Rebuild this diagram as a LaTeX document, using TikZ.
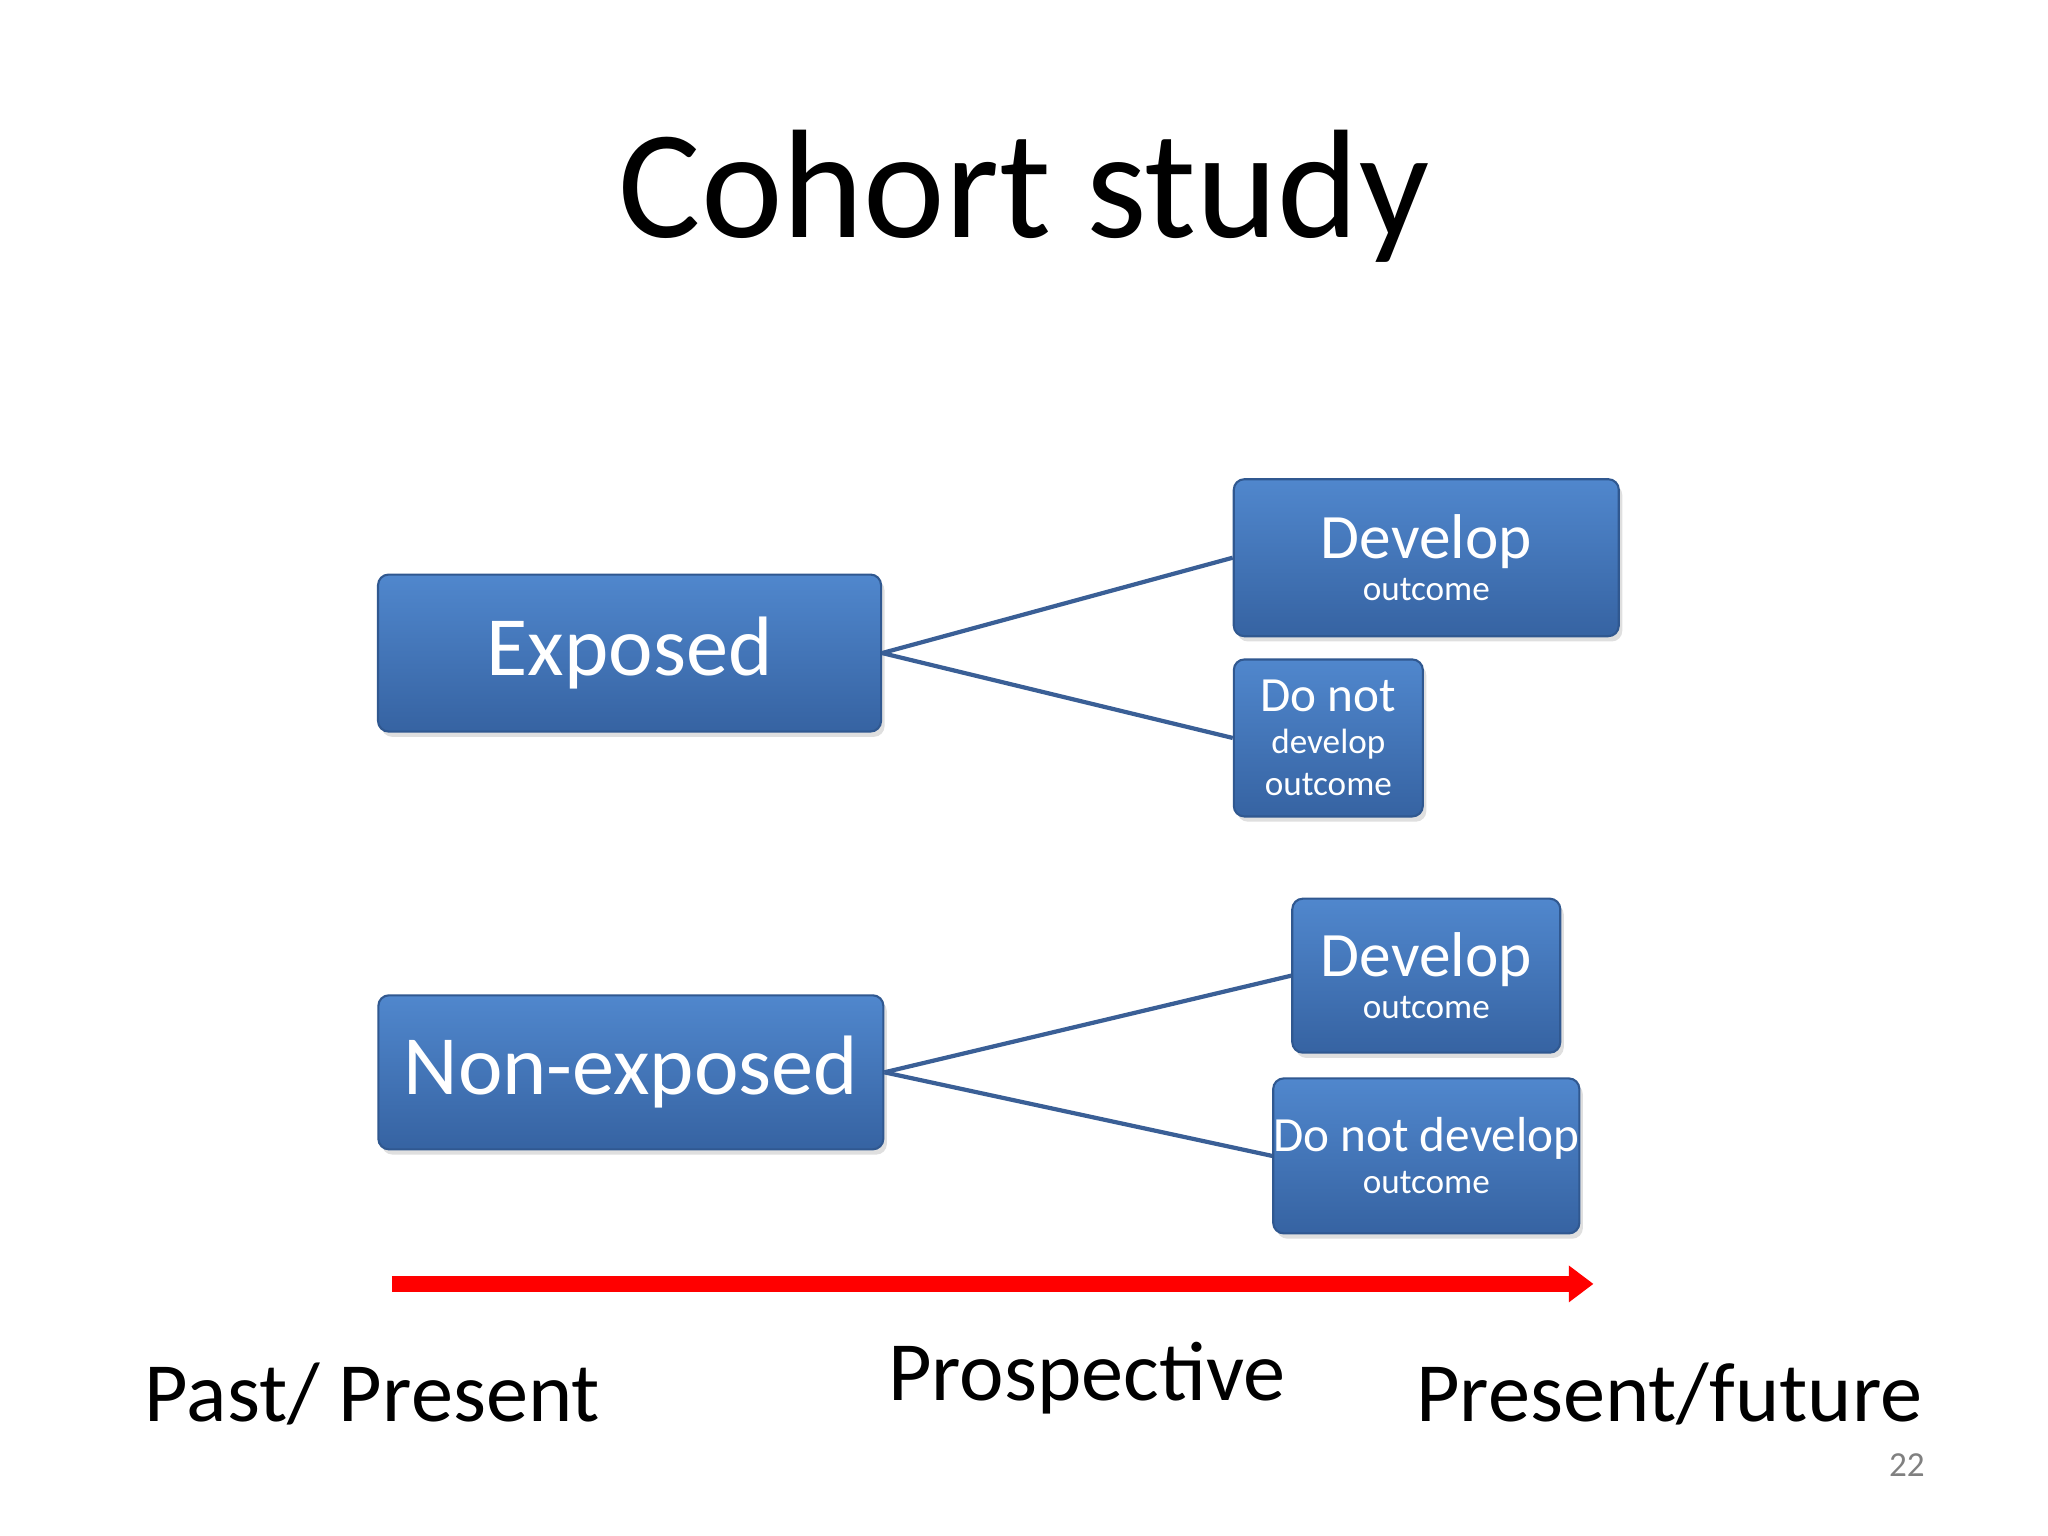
\documentclass[tikz,border=0pt]{standalone}
\usepackage{fontspec}
\setmainfont{Carlito}
\usetikzlibrary{shadows,arrows.meta}
\definecolor{boxblue}{RGB}{60,110,180}
\definecolor{boxtop}{RGB}{80,135,205}
\definecolor{linkblue}{RGB}{58,95,150}
\begin{document}
\begin{tikzpicture}[x=0.01306cm,y=-0.01306cm,
  bx/.style={rectangle,rounded corners=3pt,draw=boxblue!80!black,line width=0.6pt,
    top color=boxtop,bottom color=boxblue!90!black,text=white,align=center,
    inner sep=0pt,drop shadow={opacity=0.25,shadow xshift=1pt,shadow yshift=-1.5pt}},
  link/.style={draw=linkblue,line width=1.2pt}]
\useasboundingbox (0,0) rectangle (1568,1176);
\node (title) at (784,150) {\fontsize{44}{50}\selectfont Cohort study};
\node[bx,minimum width=5.03cm,minimum height=1.57cm] (exp) at (482,500) {\fontsize{24}{28}\selectfont Exposed};
\node[bx,minimum width=5.05cm,minimum height=1.54cm] (non) at (483,821) {\fontsize{24}{28}\selectfont Non-exposed};
\node[bx,minimum width=3.85cm,minimum height=1.57cm] (d1) at (1092,427) {\fontsize{18}{21}\selectfont Develop\\outcome};
\node[bx,minimum width=1.89cm,minimum height=1.57cm] (n1) at (1017,565) {\fontsize{14}{16}\selectfont Do not\\develop\\outcome};
\node[bx,minimum width=2.68cm,minimum height=1.54cm] (d2) at (1092,747) {\fontsize{18}{19.5}\selectfont Develop\\outcome};
\node[bx,minimum width=2.68cm,minimum height=1.55cm] (n2) at (1092,885) {\fontsize{14}{15.5}\selectfont Do not develop\\outcome};
\draw[link] (exp.east) -- (d1.west);
\draw[link] (exp.east) -- (n1.west);
\draw[link] (non.east) -- (d2.west);
\draw[link] (non.east) -- (n2.west);
\coordinate (a0) at (300,983);
\coordinate (a1) at (1220,983);
\draw[red,line width=4.5pt,-{Triangle[length=7pt,width=10pt]}] (a0) -- (a1);
\node (past) at (285,1067) {\fontsize{24}{28}\selectfont Past/ Present};
\node (pro) at (832,1055) {\fontsize{24}{28}\selectfont Prospective};
\node (fut) at (1278,1067) {\fontsize{24}{28}\selectfont Present/future};
\node[text=gray] (pg) at (1460,1122) {\fontsize{10}{12}\selectfont 22};
\end{tikzpicture}
\end{document}
